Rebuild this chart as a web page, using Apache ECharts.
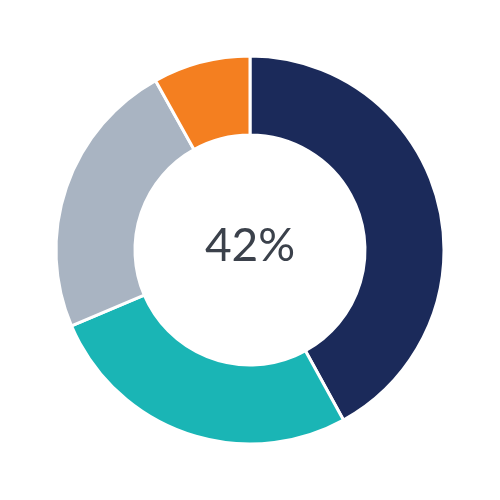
<!DOCTYPE html>
<html>
<head>
<meta charset="utf-8">
<script src="https://cdn.jsdelivr.net/npm/echarts@6/dist/echarts.min.js"></script>
<style>html,body{margin:0;padding:0;background:#fff}#c{width:500px;height:500px}</style>
</head>
<body>
<div id="c"></div>
<script>
const categories = ['A', 'B', 'C', 'D'];
const values = [42, 26.6, 23.3, 8.1];
const colors = ['#1b2a5a', '#1ab5b5', '#a9b4c2', '#f47f20'];
const centerLabel = '42%';

const chart = echarts.init(document.getElementById('c'), null, {renderer: 'canvas'});
chart.setOption({
  animation: false,
  color: colors,
  graphic: [{
    type: 'text',
    x: 250,
    y: 246,
    style: {
      text: centerLabel,
      align: 'center',
      verticalAlign: 'middle',
      fontFamily: 'Lato',
      fontWeight: 400,
      fontSize: 46,
      fill: '#3b414b'
    },
    z: 10
  }],
  series: [{
    type: 'pie',
    center: [250, 250],
    radius: [115, 194],
    startAngle: 90,
    clockwise: true,
    label: {show: false},
    labelLine: {show: false},
    itemStyle: {borderColor: '#fff', borderWidth: 3},
    data: categories.map((c, i) => ({name: c, value: values[i]}))
  }]
});
</script>
</body>
</html>
